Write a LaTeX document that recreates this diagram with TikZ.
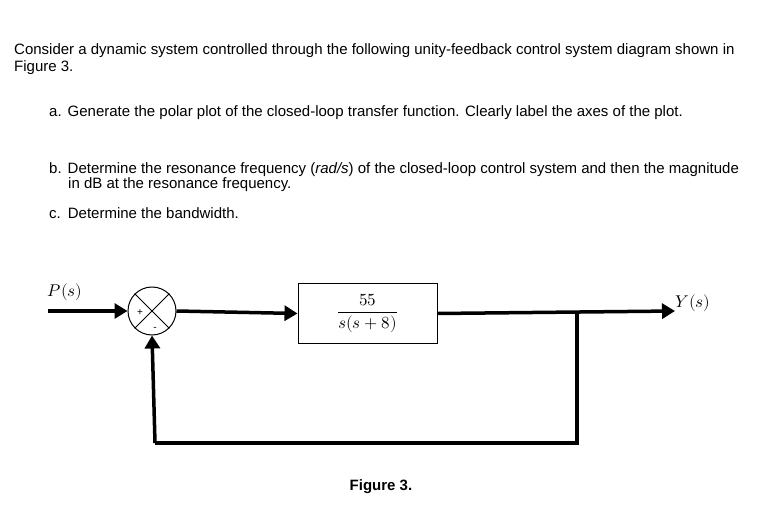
\documentclass[tikz,border=0pt]{standalone}
\usepackage{fontspec}
\setmainfont{Liberation Sans}
\usepackage{unicode-math}
\setmathfont{Latin Modern Math}
\usetikzlibrary{arrows.meta}
\begin{document}
\begin{tikzpicture}[x=1pt,y=-1pt,
  txt/.style={anchor=west,inner sep=0,font=\fontsize{15}{17}\selectfont},
  sig/.style={line width=3.5pt,-{Triangle[width=15pt,length=13pt]}},
  wire/.style={line width=3.5pt},
  mth/.style={font=\fontsize{17}{20}\selectfont}]
\useasboundingbox (0,0) rectangle (773,518);
\node[txt] (t1) at (14,51) {Consider a dynamic system controlled through the following unity-feedback control system diagram shown in};
\node[txt] (t2) at (14,68) {Figure 3.};
\node[txt] (ta) at (49,113) {a.\hspace{6pt}Generate the polar plot of the closed-loop transfer function. Clearly label the axes of the plot.};
\node[txt] (tb) at (49,170) {b.\hspace{6pt}Determine the resonance frequency (\textit{rad/s}) of the closed-loop control system and then the magnitude};
\node[txt] (tb2) at (68,185) {in dB at the resonance frequency.};
\node[txt] (tc) at (49,213) {c.\hspace{7pt}Determine the bandwidth.};
\node[mth] (P) at (65,292) {$P(s)$};
\node[mth] (Y) at (693,303) {$Y(s)$};
\coordinate (in) at (48,311);
\node[circle,draw,line width=1pt,minimum size=48pt,inner sep=0] (sum) at (152,311) {};
\draw[line width=1pt] (sum.north west) -- (sum.south east) (sum.north east) -- (sum.south west);
\node at (140,313) {+};
\node at (155,329) {-};
\node[draw,line width=1pt,minimum width=139pt,minimum height=59pt,mth] (G) at (367.5,313.5) {$\dfrac{55}{s(s+8)}$};
\coordinate (br) at (577,311);
\coordinate (out) at (675,311);
\coordinate (d1) at (577,443);
\coordinate (d2) at (155,443);
\draw[sig] (in) -- (sum.west);
\draw[sig] (sum.east) -- (G.west);
\draw[sig] (G.east) -- (out);
\draw[wire] (br) -- (d1) -- (d2);
\draw[sig] (d2) -- (sum.south);
\node[font=\fontsize{15}{17}\selectfont\bfseries] (fig) at (381,487) {Figure 3.};
\end{tikzpicture}
\end{document}
